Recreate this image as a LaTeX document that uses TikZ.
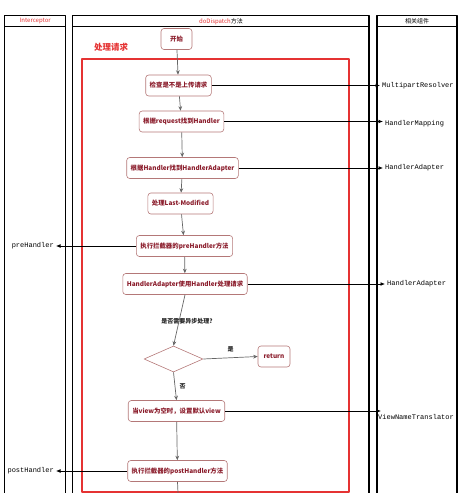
\documentclass[tikz,border=0pt]{standalone}
\usepackage{fontspec}
\setmainfont{Noto Sans CJK SC}
\newfontfamily\cjkbold{Noto Sans CJK SC}[BoldFont={* Bold}]
\setmonofont{Liberation Mono}
\usetikzlibrary{shapes.geometric,arrows.meta}
\definecolor{boxline}{HTML}{B47878}
\definecolor{boxtext}{HTML}{8A1B2A}
\definecolor{laneRed}{HTML}{E53333}
\definecolor{flowgray}{HTML}{666666}
\begin{document}
\begin{tikzpicture}[x=1pt, y=-1pt, line join=round, >={Stealth[length=4.5pt,width=3.8pt]},
  stepbox/.style={draw=boxline, line width=0.6pt, rounded corners=3pt, text=boxtext,
    font=\fontsize{6.4}{7}\selectfont\bfseries, minimum height=21pt, inner xsep=4pt},
  choice/.style={diamond, draw=boxline, line width=0.6pt, minimum width=59pt, minimum height=26pt, inner sep=0pt},
  note/.style={font=\fontsize{6}{7}\selectfont\bfseries, text=black!85},
  comp/.style={font=\fontsize{7}{8}\selectfont\ttfamily, inner xsep=2pt},
  flow/.style={->, draw=flowgray, line width=0.7pt},
  call/.style={-{Latex[length=4.5pt,width=3.8pt]}, draw=black, line width=0.7pt},
  lane/.style={draw=black, line width=1.2pt}]
  \useasboundingbox (0,0) rectangle (474,493);
  % swimlanes
  \draw[lane] (4.7,493) -- (4.7,15.7) -- (65.7,15.7) -- (65.7,493) (4.7,26.7) -- (65.7,26.7);
  \draw[lane] (72.5,493) -- (72.5,15.7) -- (369,15.7) -- (369,493) (72.5,26.7) -- (369,26.7);
  \draw[lane] (377,493) -- (377,15.7) -- (457,15.7) -- (457,493) (377,26.7) -- (457,26.7);
  \node[font=\fontsize{6}{7}\selectfont, text=laneRed] (hint) at (35.2,21.2) {Interceptor};
  \node[font=\fontsize{6}{7}\selectfont] (hdisp) at (221,21.2) {\textcolor{laneRed}{doDispatch}方法};
  \node[font=\fontsize{6}{7}\selectfont] (hcomp) at (417,21.2) {相关组件};
  \draw[laneRed, line width=1.2pt] (82,59) rectangle (349,492);
  \node[font=\fontsize{8.5}{9}\selectfont\bfseries, text=laneRed] (req) at (111,47) {处理请求};
  % flow
  \node[stepbox, minimum width=31pt] (start) at (176.5,39) {开始};
  \node[stepbox] (check) at (178.5,85.5) {检查是不是上传请求};
  \node[stepbox] (findh) at (181.5,121.5) {根据request找到Handler};
  \node[stepbox] (finda) at (182.5,168) {根据Handler找到HandlerAdapter};
  \node[stepbox] (lastm) at (180.5,203.5) {处理Last-Modified};
  \node[stepbox] (pre) at (184.5,246) {执行拦截器的preHandler方法};
  \node[stepbox] (handle) at (185,284) {HandlerAdapter使用Handler处理请求};
  \node[note] (ask) at (187,321) {是否需要异步处理?};
  \node[choice] (async) at (173.5,359) {};
  \node[stepbox, minimum width=32pt] (ret) at (274,356.5) {return};
  \node[stepbox] (view) at (176.5,411) {当view为空时，设置默认view};
  \node[stepbox] (post) at (177.5,471) {执行拦截器的postHandler方法};
  \coordinate (flowend) at (178,493);
  \draw[flow] (start) -- (check);
  \draw[flow] (check) -- (findh);
  \draw[flow] (findh) -- (finda);
  \draw[flow] (finda) -- (lastm);
  \draw[flow] (lastm) -- (pre);
  \draw[flow] (pre) -- (handle);
  \draw[flow] (handle.south) -- (async.north);
  \draw[flow] (async.east) -- node[note, above=2pt] (yes) {是} (ret.west);
  \draw[flow] (async.south) -- node[note, right=1pt] (no) {否} (view.north);
  \draw[flow] (view) -- (post);
  \draw[flowgray, line width=0.7pt] (post.south) -- (flowend);
  % components
  \node[comp, anchor=west] (multi) at (380,85.5) {MultipartResolver};
  \node[comp, anchor=west] (hmap) at (383,124) {HandlerMapping};
  \node[comp, anchor=west] (hada) at (383,168) {HandlerAdapter};
  \node[comp, anchor=west] (hada2) at (385,284) {HandlerAdapter};
  \node[comp, anchor=west] (vnt) at (376,416.5) {ViewNameTranslator};
  \coordinate (vntin) at (381,411);
  \draw[call] (check.east) -- (multi.west);
  \draw[call] (findh.east) -- (findh.east -| hmap.west);
  \draw[call] (finda.east) -- (hada.west);
  \draw[call] (handle.east) -- (hada2.west);
  \draw[call] (view.east) -- (vntin);
  % interceptor
  \node[comp, anchor=east] (preh) at (56,246) {preHandler};
  \node[comp, anchor=east] (posth) at (56,471) {postHandler};
  \draw[call] (pre.west) -- (preh.east);
  \draw[call] (post.west) -- (posth.east);
\end{tikzpicture}
\end{document}
